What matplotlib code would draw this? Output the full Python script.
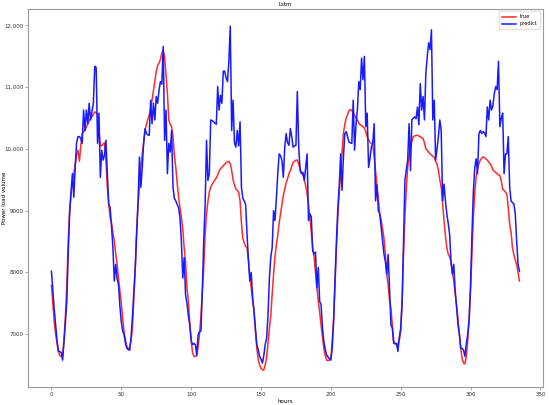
import numpy as np
import matplotlib
matplotlib.use("Agg")
import matplotlib.pyplot as plt
from matplotlib.ticker import FuncFormatter

# power load, hourly
true_vals = [
    7790, 7500, 7200, 7000, 6850, 6720, 6650, 6640, 6660, 6900,
    7300, 7800, 8500, 9000, 9250, 9450, 9600, 9750, 9900, 9980,
    9800, 10050, 10250, 10280, 10300, 10360, 10400, 10450, 10500, 10520,
    10560, 10600, 10590, 10550, 10300, 10060, 10050, 10080, 10100, 9800,
    9380, 9100, 8890, 8800, 8650, 8500, 8300, 8130, 7900, 7700,
    7500, 7250, 7040, 6900, 6800, 6770, 6780, 6900, 7100, 7600,
    8080, 8700, 9100, 9400, 9700, 9920, 10100, 10300, 10400, 10480,
    10550, 10650, 10790, 10950, 11100, 11250, 11350, 11390, 11450, 11550,
    11600, 11500, 11200, 10900, 10470, 10400, 10360, 10200, 9900, 9700,
    9450, 9220, 9050, 8900, 8700, 8400, 8180, 7750, 7530, 7200,
    6900, 6700, 6640, 6640, 6650, 6800, 7000, 7300, 7700, 8080,
    8600, 8950, 9150, 9300, 9380, 9430, 9460, 9500, 9530, 9580,
    9640, 9680, 9700, 9730, 9750, 9780, 9790, 9800, 9760, 9650,
    9500, 9420, 9350, 9330, 9300, 9160, 8800, 8550, 8480, 8420,
    8400, 8200, 7950, 7750, 7550, 7370, 7050, 6770, 6600, 6500,
    6450, 6420, 6420, 6500, 6620, 6850, 7100, 7300, 7650, 7970,
    8250, 8450, 8600, 8800, 8950, 9100, 9250, 9350, 9450, 9520,
    9600, 9650, 9720, 9780, 9800, 9820, 9820, 9750, 9680, 9620,
    9580, 9500, 9400, 9270, 9100, 8900, 8650, 8400, 8250, 8000,
    7750, 7550, 7350, 7150, 6950, 6770, 6650, 6580, 6570, 6580,
    6610, 6900, 7260, 7800, 8400, 8900, 9300, 9600, 9950, 10250,
    10400, 10500, 10560, 10620, 10640, 10620, 10590, 10550, 10500, 10470,
    10420, 10390, 10380, 10360, 10340, 10280, 10200, 10150, 10110, 10090,
    10080, 9870, 9650, 9400, 9200, 8950, 8850, 8700, 8560, 8300,
    7970, 7800, 7550, 7420, 7150, 6880, 6840, 6830, 6830, 6900,
    7040, 7500, 8300, 8900, 9350, 9700, 9900, 10030, 10120, 10200,
    10210, 10220, 10220, 10210, 10200, 10180, 10170, 10100, 10000, 9980,
    9950, 9920, 9900, 9880, 9870, 9800, 9760, 9650, 9500, 9380,
    9100, 8840, 8600, 8400, 8300, 8250, 8180, 8000, 7860, 7650,
    7450, 7250, 7000, 6770, 6600, 6530, 6520, 6650, 6900, 7250,
    7700, 8300, 8900, 9300, 9550, 9680, 9760, 9820, 9850, 9870,
    9860, 9840, 9820, 9790, 9760, 9720, 9660, 9640, 9620, 9600,
    9580, 9570, 9480, 9350, 9330, 9300, 9270, 9050, 8780, 8650,
    8400, 8290, 8200, 8130, 8000, 7860,
]

predict_vals = [
    8020, 7700, 7400, 7150, 6900, 6720, 6720, 6700, 6580, 6880,
    7200, 7530, 8300, 8950, 9300, 9600, 9220, 9700, 10100, 10200,
    10200, 10170, 10090, 10630, 10300, 10630, 10410, 10740, 10470, 10600,
    10740, 11340, 11320, 10090, 10580, 9540, 9980, 9820, 9900, 10140,
    9600, 9110, 9050, 8750, 8400, 7860, 8130, 7900, 7800, 7450,
    7200, 7050, 6990, 6850, 6770, 6750, 6740, 6950, 7300, 7700,
    8080, 8600, 9160, 9870, 9380, 9700, 10100, 10330, 10250, 10230,
    10220, 10790, 10410, 10740, 10470, 10850, 10740, 10950, 11090, 11050,
    11660, 10140, 10630, 9600, 10090, 9950, 10300, 9380, 9200, 9160,
    9100, 9050, 8890, 8510, 7910, 8240, 7640, 7500, 7300, 7150,
    6900, 6830, 6850, 6830, 6660, 6990, 7040, 7050, 7700, 8500,
    9100, 10140, 9490, 9600, 10470, 10460, 10440, 10420, 10400, 11010,
    10630, 10870, 10740, 11260, 11260, 11150, 11090, 11420, 11990, 10300,
    10790, 10100, 10030, 10300, 10050, 10440, 9380, 9200, 9160, 9100,
    8620, 8200, 7860, 8000, 7600, 7370, 7100, 6830, 6750, 6640,
    6600, 6530, 6650, 6830, 6930, 7300, 7900, 8250, 8400, 9000,
    8840, 9200, 9600, 9920, 9890, 9810, 9540, 10030, 10250, 10100,
    10060, 10330, 10200, 10030, 10050, 10060, 10930, 10030, 9650, 9600,
    9620, 9490, 9700, 9920, 8840, 8950, 8900, 8350, 8300, 8330,
    7750, 8080, 7530, 7480, 7100, 6880, 6750, 6660, 6630, 6600,
    6580, 6780, 7210, 7900, 8510, 9050, 9400, 9920, 9330, 9870,
    10250, 10280, 10200, 10110, 10100, 10090, 10790, 9980, 10400, 10630,
    11090, 10960, 11470, 11120, 11500, 10360, 10580, 9700, 9850, 10030,
    10090, 10410, 9160, 9420, 9000, 8950, 8730, 8510, 8300, 8180,
    7970, 8290, 7750, 7150, 7100, 6850, 6850, 6850, 6720, 6950,
    7100, 7530, 8460, 9490, 9650, 9820, 10410, 9650, 10470, 10500,
    10520, 10490, 10680, 10390, 11060, 10630, 10850, 10470, 11230, 11500,
    11720, 11610, 11930, 10470, 10790, 9820, 10000, 10200, 10470, 10300,
    9160, 9430, 9160, 8950, 8800, 8620, 8180, 7970, 8130, 7700,
    7450, 7150, 7000, 6770, 6770, 6740, 6640, 6850, 7000, 7250,
    7800, 8620, 9300, 9700, 9840, 9600, 10250, 10300, 10250, 10280,
    10260, 10200, 10680, 10470, 10790, 10630, 10700, 10900, 11010, 10960,
    11420, 10360, 10500, 10580, 9600, 9920, 9920, 10200, 9380, 9160,
    9130, 9110, 8950, 8510, 8130, 8020,
]

hours = np.arange(len(true_vals))

fig = plt.figure(figsize=(5.5, 4.05), dpi=100)
ax = fig.add_axes([0.051, 0.044, 0.936, 0.934])

ax.plot(hours, true_vals, color="#ff2a2a", lw=1.1, label="true")
ax.plot(hours, predict_vals, color="#1a1aff", lw=1.1, label="predict")

ax.set_title("Lstm", fontsize=4, pad=2)
ax.set_xlabel("hours", fontsize=4, labelpad=1.5)
ax.set_ylabel("Power load volume", fontsize=4)
ax.yaxis.set_label_coords(-0.040, 0.5)

ax.set_xticks([0, 50, 100, 150, 200, 250, 300, 350])
ax.set_yticks([7000, 8000, 9000, 10000, 11000, 12000])
ax.yaxis.set_major_formatter(
    FuncFormatter(lambda v, p: f"{int(v):,}" if v >= 10000 else f"{int(v)}"))
ax.tick_params(labelsize=4, length=2, width=0.5, color="#888888",
               labelcolor="#333333", pad=1.2)
for s in ax.spines.values():
    s.set_color("#999999")
    s.set_linewidth(0.8)

ax.legend(loc="upper right", fontsize=3.6, frameon=True, edgecolor="#dddddd",
          fancybox=False, handlelength=2.8, borderpad=0.6, labelspacing=0.4)

fig.savefig("out.png", dpi=100)
